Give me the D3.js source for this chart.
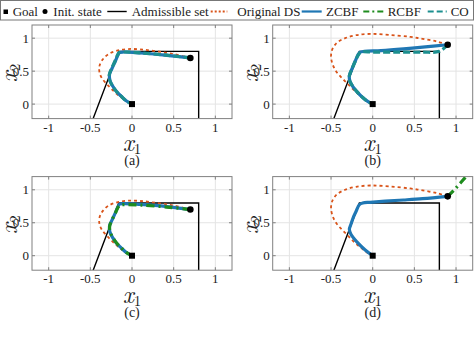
<!DOCTYPE html>
<html><head><meta charset="utf-8">
<script src="https://cdn.jsdelivr.net/npm/d3@7"></script>
<style>
html,body{margin:0;padding:0;background:#fff;}
svg{display:block;}
</style></head>
<body>
<svg id="chart" width="474" height="347"></svg>
<script>
// ---------------- DATA ----------------
const xTicks = [-1, -0.5, 0, 0.5, 1];
const yTicks = [0, 0.5, 1];
const xTickLabels = ["-1", "-0.5", "0", "0.5", "1"];
const yTickLabels = ["0", "0.5", "1"];
const panelLabels = ["(a)", "(b)", "(c)", "(d)"];
const legendLabels = ["Goal", "Init. state", "Admissible set", "Original DS", "ZCBF", "RCBF", "CO"];

const admissibleSet = [[-0.466, -0.22], [-0.16, 0.8], [0.8, 0.8], [0.8, -0.22]];
const goal = [0, 0];
const initLow = [0.7, 0.7];
const initHigh = [0.9, 0.9];

const originalDSLow = [[0.7,0.7],[0.5,0.76],[0.3,0.8],[0.1,0.83],[-0.05,0.835],[-0.18,0.81],[-0.28,0.76],[-0.35,0.68],[-0.39,0.58],[-0.39,0.48],[-0.36,0.39],[-0.3,0.3],[-0.23,0.21],[-0.15,0.12],[-0.07,0.05],[0,0]];
const originalDSHigh = [[0.9,0.9],[0.77,0.95],[0.6,0.99],[0.45,1.02],[0.2,1.05],[-0.03,1.065],[-0.2,1.045],[-0.33,1.0],[-0.43,0.93],[-0.485,0.83],[-0.5,0.72],[-0.48,0.6],[-0.44,0.5],[-0.38,0.41],[-0.31,0.32],[-0.24,0.23],[-0.16,0.14],[-0.08,0.06],[0,0]];

const zcbfA = [[0.7,0.7],[0.42,0.74],[0.1,0.775],[-0.1,0.79],[-0.15,0.78],[-0.17,0.74],[-0.2,0.65],[-0.24,0.54],[-0.27,0.45],[-0.265,0.36],[-0.23,0.27],[-0.185,0.19],[-0.13,0.12],[-0.07,0.05],[0,0]];
const coA   = [[0.7,0.7],[0.42,0.742],[0.1,0.778],[-0.1,0.79],[-0.155,0.78],[-0.175,0.74],[-0.205,0.65],[-0.245,0.54],[-0.272,0.45],[-0.267,0.36],[-0.232,0.27],[-0.187,0.19],[-0.13,0.12],[-0.07,0.05],[0,0]];

const zcbfB = [[0.9,0.9],[0.6,0.865],[0.37,0.838],[0.1,0.812],[-0.1,0.8],[-0.155,0.785],[-0.175,0.75],[-0.21,0.65],[-0.25,0.53],[-0.28,0.43],[-0.275,0.35],[-0.24,0.27],[-0.19,0.19],[-0.12,0.1],[-0.06,0.04],[0,0]];
const coB   = [[0.9,0.9],[0.8,0.8],[0.6,0.788],[0.3,0.788],[0,0.79],[-0.14,0.79],[-0.165,0.76],[-0.21,0.65],[-0.25,0.53],[-0.28,0.43],[-0.275,0.35],[-0.24,0.27],[-0.19,0.19],[-0.12,0.1],[-0.06,0.04],[0,0]];

const zcbfC = [[0.7,0.7],[0.42,0.745],[0.1,0.778],[-0.1,0.79],[-0.15,0.78],[-0.17,0.74],[-0.2,0.65],[-0.24,0.54],[-0.27,0.45],[-0.265,0.36],[-0.23,0.27],[-0.185,0.19],[-0.13,0.12],[-0.07,0.05],[0,0]];
const rcbfC = [[0.7,0.7],[0.42,0.738],[0.1,0.768],[-0.1,0.775],[-0.145,0.765],[-0.17,0.73],[-0.2,0.645],[-0.24,0.54],[-0.268,0.45],[-0.262,0.36],[-0.228,0.27],[-0.183,0.19],[-0.13,0.12],[-0.07,0.05],[0,0]];

const zcbfD = [[0.9,0.9],[0.6,0.865],[0.37,0.845],[0.15,0.828],[-0.03,0.81],[-0.12,0.8],[-0.16,0.775],[-0.2,0.67],[-0.23,0.59],[-0.26,0.48],[-0.28,0.4],[-0.26,0.32],[-0.19,0.21],[-0.09,0.087],[0,0]];
const rcbfD = [[0.9,0.9],[0.98,1.0],[1.05,1.1],[1.12,1.2],[1.2,1.31]];

// ---------------- LAYOUT ----------------
const W = 200, H = 93.6;
const panels = [
  {x0: 32,    y0: 25,    init: initLow,  orig: originalDSLow,  series: [["zcbf", zcbfA], ["co", coA]]},
  {x0: 272.7, y0: 25,    init: initHigh, orig: originalDSHigh, series: [["zcbf", zcbfB], ["co", coB]]},
  {x0: 32,    y0: 176.6, init: initLow,  orig: originalDSLow,  series: [["zcbf", zcbfC], ["rcbf", rcbfC]]},
  {x0: 272.7, y0: 176.6, init: initHigh, orig: originalDSHigh, series: [["zcbf", zcbfD], ["rcbf", rcbfD]]}
];
const styles = {
  adm:  {stroke: "#000", width: 1.4, dash: null},
  orig: {stroke: "#D95319", width: 1.8, dash: "3,3"},
  zcbf: {stroke: "#1f77b4", width: 3.2, dash: null},
  rcbf: {stroke: "#1e8c1e", width: 3.2, dash: "8,4,2,4"},
  co:   {stroke: "#1c8f8f", width: 3.2, dash: "7,3"}
};
const frameColor = "#808080";
const textColor = "#222";
const SERIF = "'Liberation Serif', serif";
const MATH = "'Latin Modern Roman', 'Liberation Serif', serif";

const svg = d3.select("#chart");
const defs = svg.append("defs");

panels.forEach((p, i) => {
  const x = d3.scaleLinear().domain([-1.2, 1.2]).range([p.x0, p.x0 + W]);
  const y = d3.scaleLinear().domain([-0.22, 1.2]).range([p.y0 + H, p.y0]);
  const g = svg.append("g");
  const clipId = "clip" + i;
  defs.append("clipPath").attr("id", clipId).append("rect")
    .attr("x", p.x0).attr("y", p.y0).attr("width", W).attr("height", H);

  // grid
  g.selectAll(".gx").data(xTicks).join("line")
    .attr("x1", d => x(d)).attr("x2", d => x(d)).attr("y1", p.y0).attr("y2", p.y0 + H)
    .attr("stroke", "#e4e4e4").attr("stroke-width", 1);
  g.selectAll(".gy").data(yTicks).join("line")
    .attr("y1", d => y(d)).attr("y2", d => y(d)).attr("x1", p.x0).attr("x2", p.x0 + W)
    .attr("stroke", "#e4e4e4").attr("stroke-width", 1);

  const line = d3.line().x(d => x(d[0])).y(d => y(d[1]));
  const smooth = d3.line().x(d => x(d[0])).y(d => y(d[1])).curve(d3.curveCatmullRom.alpha(0.5));
  const plot = g.append("g").attr("clip-path", `url(#${clipId})`);

  plot.append("path").attr("d", line(admissibleSet)).attr("fill", "none")
    .attr("stroke", styles.adm.stroke).attr("stroke-width", styles.adm.width);
  plot.append("path").attr("d", smooth(p.orig)).attr("fill", "none")
    .attr("stroke", styles.orig.stroke).attr("stroke-width", styles.orig.width)
    .attr("stroke-dasharray", styles.orig.dash);
  p.series.forEach(([k, data]) => {
    const s = styles[k];
    plot.append("path").attr("d", smooth(data)).attr("fill", "none")
      .attr("stroke", s.stroke).attr("stroke-width", s.width)
      .attr("stroke-dasharray", s.dash).attr("stroke-linejoin", "round");
  });
  plot.append("rect").attr("x", x(goal[0]) - 3).attr("y", y(goal[1]) - 3)
    .attr("width", 6).attr("height", 6).attr("fill", "#000");
  plot.append("circle").attr("cx", x(p.init[0])).attr("cy", y(p.init[1])).attr("r", 3.3).attr("fill", "#000");

  // frame
  g.append("rect").attr("x", p.x0).attr("y", p.y0).attr("width", W).attr("height", H)
    .attr("fill", "none").attr("stroke", frameColor).attr("stroke-width", 1);
  const tl = 3;
  xTicks.forEach(t => {
    g.append("line").attr("x1", x(t)).attr("x2", x(t)).attr("y1", p.y0 + H).attr("y2", p.y0 + H - tl).attr("stroke", frameColor);
    g.append("line").attr("x1", x(t)).attr("x2", x(t)).attr("y1", p.y0).attr("y2", p.y0 + tl).attr("stroke", frameColor);
  });
  yTicks.forEach(t => {
    g.append("line").attr("y1", y(t)).attr("y2", y(t)).attr("x1", p.x0).attr("x2", p.x0 + tl).attr("stroke", frameColor);
    g.append("line").attr("y1", y(t)).attr("y2", y(t)).attr("x1", p.x0 + W).attr("x2", p.x0 + W - tl).attr("stroke", frameColor);
  });
  g.selectAll(".xl").data(xTicks).join("text")
    .attr("x", d => x(d)).attr("y", p.y0 + H + 13).attr("text-anchor", "middle")
    .style("font-family", SERIF).attr("font-size", 13).attr("fill", textColor).text((d, j) => xTickLabels[j]);
  g.selectAll(".yl").data(yTicks).join("text")
    .attr("x", p.x0 - 3).attr("y", d => y(d) + 4.5).attr("text-anchor", "end")
    .style("font-family", SERIF).attr("font-size", 13).attr("fill", textColor).text((d, j) => yTickLabels[j]);

  // axis labels
  const xl = g.append("text").attr("x", p.x0 + 100).attr("y", p.y0 + 126).attr("text-anchor", "middle")
    .style("font-family", MATH).attr("fill", textColor);
  xl.append("tspan").attr("font-size", 24).attr("font-style", "italic").text("x");
  xl.append("tspan").attr("font-size", 15).attr("dy", 3).text("1");
  const yl = g.append("text").attr("transform", `translate(${p.x0 - 15},${p.y0 + 48}) rotate(-90)`).attr("text-anchor", "middle")
    .style("font-family", MATH).attr("fill", textColor);
  yl.append("tspan").attr("font-size", 24).attr("font-style", "italic").text("x");
  yl.append("tspan").attr("font-size", 15).attr("dy", 3).text("2");

  g.append("text").attr("x", p.x0 + 100).attr("y", p.y0 + 140).attr("text-anchor", "middle")
    .style("font-family", SERIF).attr("font-size", 14).attr("fill", textColor).text(panelLabels[i]);
});

// ---------------- LEGEND ----------------
const lg = svg.append("g");
lg.append("rect").attr("x", 0.5).attr("y", 0.5).attr("width", 473).attr("height", 19.5)
  .attr("fill", "#fff").attr("stroke", "#777").attr("stroke-width", 1);
const ly = 11.5, fs = 13;
lg.append("rect").attr("x", 3.5).attr("y", ly - 2).attr("width", 4.5).attr("height", 4.5).attr("fill", "#000");
lg.append("text").attr("x", 12.7).attr("y", ly + 4.5).style("font-family", SERIF).attr("font-size", fs).attr("fill", textColor).text(legendLabels[0]);
lg.append("circle").attr("cx", 45).attr("cy", ly).attr("r", 2.5).attr("fill", "#000");
lg.append("text").attr("x", 53.3).attr("y", ly + 4.5).style("font-family", SERIF).attr("font-size", fs).attr("fill", textColor).text(legendLabels[1]);
const legLines = [
  [107.3, 126.7, styles.adm, 131.7, 2, null],
  [210.7, 227.3, styles.orig, 237.3, 3, "2,2"],
  [301.7, 321.7, styles.zcbf, 326, 4, null],
  [363.3, 383.3, styles.rcbf, 387.7, 5, "6,3,2,3"],
  [427.7, 446.7, styles.co, 450.7, 6, "6,3"]
];
legLines.forEach(([a, b, s, tx, li, dash]) => {
  lg.append("line").attr("x1", a).attr("x2", b).attr("y1", ly).attr("y2", ly)
    .attr("stroke", s.stroke).attr("stroke-width", Math.min(s.width, 2.2))
    .attr("stroke-dasharray", dash);
  lg.append("text").attr("x", tx).attr("y", ly + 4.5).style("font-family", SERIF).attr("font-size", fs).attr("fill", textColor).text(legendLabels[li]);
});
</script>
</body></html>
